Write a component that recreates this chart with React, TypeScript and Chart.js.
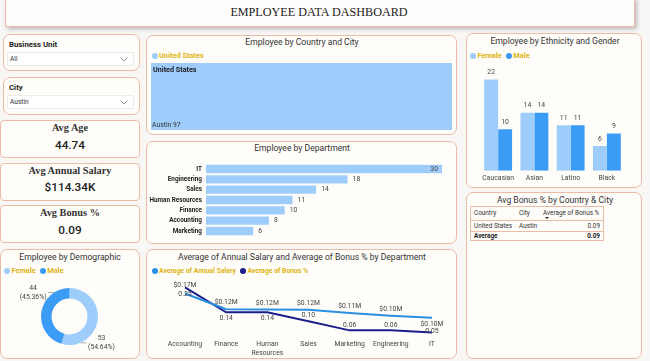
import React, { useEffect, useRef } from 'react';
import { Chart, registerables } from 'chart.js';
Chart.register(...registerables);

// ---------- data ----------
const dashboardTitle = 'EMPLOYEE DATA DASHBOARD';
const businessUnitSelection = 'All';
const citySelection = 'Austin';
const kpiTitles = ['Avg Age', 'Avg Annual Salary', 'Avg Bonus %'];
const kpiValues = ['44.74', '$114.34K', '0.09'];

const countries = ['United States'];
const cities = ['Austin'];
const cityCounts = [97];

const departments = ['IT', 'Engineering', 'Sales', 'Human Resources', 'Finance', 'Accounting', 'Marketing'];
const departmentCounts = [30, 18, 14, 11, 10, 8, 6];

const ethnicities = ['Caucasian', 'Asian', 'Latino', 'Black'];
const femaleByEthnicity = [22, 14, 11, 6];
const maleByEthnicity = [10, 14, 11, 9];

const genders = ['Female', 'Male'];
const genderCounts = [53, 44];

const lineDepartments = ['Accounting', 'Finance', ['Human', 'Resources'], 'Sales', 'Marketing', 'Engineering', 'IT'];
const lineSeriesNames = ['Average of Annual Salary', 'Average of Bonus %'];
const avgAnnualSalary = [168000, 123000, 122000, 121000, 112000, 104000, 98000];
const avgBonusPct = [0.25, 0.14, 0.14, 0.1, 0.06, 0.06, 0.05];

const tableHeaders = ['Country', 'City', 'Average of Bonus %'];
const tableRowCountry = 'United States';
const tableRowCity = 'Austin';
const tableRowBonus = '0.09';
const tableTotalLabel = 'Average';
const tableTotalBonus = '0.09';

// ---------- styles ----------
const FONT = "Roboto, 'Noto Sans', sans-serif";
const SERIF = "'Liberation Serif', 'DejaVu Serif', serif";
const LIGHT = '#9fcdfb';
const MID = '#3a9cf5';
const SALARY = '#2a90e2';
const BONUS = '#1b1f8c';
const GOLD = '#e0b412';
const BORDER = '#ebbba6';
const PANEL_BG = '#fffdfa';
const TITLE_SIZE = 8.6;

function ChartCanvas({ config, left, top, width, height }: any) {
  const ref = useRef<HTMLCanvasElement | null>(null);
  useEffect(() => {
    const c = new Chart(ref.current as HTMLCanvasElement, config);
    return () => c.destroy();
  }, []);
  return (
    <canvas
      ref={ref}
      width={width}
      height={height}
      style={{ position: 'absolute', left, top, width, height }}
    />
  );
}

function Panel({ left, top, width, height, children, style }: any) {
  return (
    <div
      style={{
        position: 'absolute', left, top, width, height, boxSizing: 'border-box',
        border: `1px solid ${BORDER}`, borderRadius: 7, background: PANEL_BG, ...style,
      }}
    >
      {children}
    </div>
  );
}

function Text({ x, y, children, size = TITLE_SIZE, color = '#333', weight = 400, align = 'center', family = FONT, width = 300, style }: any) {
  const left = align === 'center' ? x - width / 2 : align === 'right' ? x - width : x;
  return (
    <div
      style={{
        position: 'absolute', left, top: y - size * 0.6, width, textAlign: align,
        fontFamily: family, fontSize: size, fontWeight: weight, color, lineHeight: `${size * 1.2}px`,
        whiteSpace: 'nowrap', ...style,
      }}
    >
      {children}
    </div>
  );
}

function Legend({ x, y, items, size = 7.4 }: any) {
  return (
    <div style={{ position: 'absolute', left: x - 3, top: y - 5, height: 10, display: 'flex', alignItems: 'center', gap: 4, whiteSpace: 'nowrap' }}>
      {items.map((it: any, i: number) => (
        <div key={i} style={{ display: 'flex', alignItems: 'center', gap: 1.5 }}>
          <div style={{ width: 6, height: 6, borderRadius: 3, background: it.color }} />
          <span style={{ fontFamily: FONT, fontSize: size, fontWeight: 700, color: GOLD, lineHeight: '10px' }}>{it.label}</span>
        </div>
      ))}
    </div>
  );
}

// ---------- chart configs ----------
const treemapConfig: any = {
  type: 'bar',
  data: {
    labels: countries,
    datasets: [{ label: cities[0], data: cityCounts, backgroundColor: LIGHT, barPercentage: 1, categoryPercentage: 1, borderWidth: 0 }],
  },
  options: {
    indexAxis: 'y', animation: false, responsive: false,
    layout: { padding: 0 },
    plugins: { legend: { display: false }, tooltip: { enabled: false } },
    scales: {
      x: { display: false, min: 0, max: cityCounts.reduce((a, b) => a + b, 0), stacked: true },
      y: { display: false, stacked: true },
    },
  },
  plugins: [{
    id: 'treeLabels',
    afterDatasetsDraw(chart: any) {
      const ctx = chart.ctx;
      const el = chart.getDatasetMeta(0).data[0];
      const p = el.getProps(['x', 'y', 'base', 'height'], true);
      const left = Math.min(p.x, p.base);
      const topY = p.y - p.height / 2;
      const botY = p.y + p.height / 2;
      ctx.save();
      ctx.fillStyle = '#1a1a1a';
      ctx.textBaseline = 'middle';
      ctx.font = `bold 7.2px ${FONT}`;
      ctx.fillText(chart.data.labels[0], left + 2, topY + 7.5);
      ctx.font = `6.8px ${FONT}`;
      ctx.fillStyle = '#333';
      ctx.fillText(`${chart.data.datasets[0].label} ${chart.data.datasets[0].data[0]}`, left + 1, botY - 4.5);
      ctx.restore();
    },
  }],
};

const deptConfig: any = {
  type: 'bar',
  data: {
    labels: departments,
    datasets: [{ data: departmentCounts, backgroundColor: LIGHT, barPercentage: 0.8, categoryPercentage: 1, borderWidth: 0 }],
  },
  options: {
    indexAxis: 'y', animation: false, responsive: false,
    layout: { padding: { left: 0, right: 10, top: 0, bottom: 0 } },
    plugins: { legend: { display: false }, tooltip: { enabled: false } },
    scales: {
      x: { display: false, min: 0, max: 30 },
      y: {
        grid: { display: false, drawTicks: false }, border: { display: false },
        ticks: { color: '#222', font: { family: FONT, size: 6.4, weight: 'bold' }, padding: 4, autoSkip: false },
        afterFit(scale: any) { scale.width = 57; },
      },
    },
  },
  plugins: [{
    id: 'deptLabels',
    afterDatasetsDraw(chart: any) {
      const ctx = chart.ctx;
      const area = chart.chartArea;
      ctx.save();
      ctx.font = `6.8px ${FONT}`;
      ctx.fillStyle = '#444';
      ctx.textBaseline = 'middle';
      chart.getDatasetMeta(0).data.forEach((el: any, i: number) => {
        const txt = String(chart.data.datasets[0].data[i]);
        const w = ctx.measureText(txt).width;
        if (el.x + 5 + w > area.right) {
          ctx.textAlign = 'right';
          ctx.fillText(txt, el.x - 4, el.y);
        } else {
          ctx.textAlign = 'left';
          ctx.fillText(txt, el.x + 5, el.y);
        }
      });
      ctx.restore();
    },
  }],
};

const ethnicityConfig: any = {
  type: 'bar',
  data: {
    labels: ethnicities,
    datasets: [
      { label: genders[0], data: femaleByEthnicity, backgroundColor: LIGHT, barPercentage: 1, categoryPercentage: 0.77, borderWidth: 0 },
      { label: genders[1], data: maleByEthnicity, backgroundColor: MID, barPercentage: 1, categoryPercentage: 0.77, borderWidth: 0 },
    ],
  },
  options: {
    animation: false, responsive: false,
    layout: { padding: { left: 10, right: 5, top: 3, bottom: 0 } },
    plugins: { legend: { display: false }, tooltip: { enabled: false } },
    scales: {
      x: {
        grid: { display: false, drawTicks: false }, border: { display: false },
        ticks: { color: '#444', font: { family: FONT, size: 6.8 }, padding: 3, maxRotation: 0 },
      },
      y: { display: false, min: 0, max: 25 },
    },
  },
  plugins: [{
    id: 'ethLabels',
    afterDatasetsDraw(chart: any) {
      const ctx = chart.ctx;
      ctx.save();
      ctx.font = `6.8px ${FONT}`;
      ctx.fillStyle = '#444';
      ctx.textAlign = 'center';
      ctx.textBaseline = 'middle';
      chart.data.datasets.forEach((ds: any, di: number) => {
        chart.getDatasetMeta(di).data.forEach((el: any, i: number) => {
          ctx.fillText(String(ds.data[i]), el.x, el.y - 7);
        });
      });
      ctx.restore();
    },
  }],
};

const totalGender = genderCounts.reduce((a, b) => a + b, 0);
const donutConfig: any = {
  type: 'doughnut',
  data: {
    labels: genders,
    datasets: [{ data: genderCounts, backgroundColor: [LIGHT, MID], borderWidth: 0 }],
  },
  options: {
    animation: false, responsive: false, cutout: '63%',
    layout: { padding: { top: 6, bottom: 13, left: 36, right: 37 } },
    plugins: { legend: { display: false }, tooltip: { enabled: false } },
  },
  plugins: [{
    id: 'donutLabels',
    afterDatasetsDraw(chart: any) {
      const ctx = chart.ctx;
      ctx.save();
      ctx.font = `6.8px ${FONT}`;
      ctx.fillStyle = '#444';
      ctx.strokeStyle = '#999';
      ctx.lineWidth = 0.8;
      ctx.textAlign = 'center';
      ctx.textBaseline = 'middle';
      chart.getDatasetMeta(0).data.forEach((el: any, i: number) => {
        const p = el.getProps(['x', 'y', 'startAngle', 'endAngle', 'outerRadius'], true);
        const a = p.startAngle + 0.8 * (p.endAngle - p.startAngle);
        const ax = p.x + p.outerRadius * Math.cos(a);
        const ay = p.y + p.outerRadius * Math.sin(a);
        const dir = Math.cos(a) < 0 ? -1 : 1;
        const ex = ax + dir * 6;
        ctx.beginPath();
        ctx.moveTo(ax, ay);
        ctx.lineTo(ex, ay);
        ctx.stroke();
        const v = genderCounts[i];
        const pct = ((v / totalGender) * 100).toFixed(2);
        const tx = ex + dir * 15;
        ctx.fillText(String(v), tx, ay - 4.3);
        ctx.fillText(`(${pct}%)`, tx, ay + 4.3);
      });
      ctx.restore();
    },
  }],
};

const lineConfig: any = {
  type: 'line',
  data: {
    labels: lineDepartments,
    datasets: [
      { label: lineSeriesNames[0], data: avgAnnualSalary, borderColor: SALARY, backgroundColor: SALARY, borderWidth: 2, pointRadius: 0, yAxisID: 'y', tension: 0 },
      { label: lineSeriesNames[1], data: avgBonusPct, borderColor: BONUS, backgroundColor: BONUS, borderWidth: 2, pointRadius: 0, yAxisID: 'y2', tension: 0 },
    ],
  },
  options: {
    animation: false, responsive: false,
    layout: { padding: { left: 35, right: 20, top: 4, bottom: 0 } },
    plugins: {
      legend: { display: false }, tooltip: { enabled: false },
      lineLabels: {
        offsets: [
          [-8, -6.5, -6.5, -6.5, -6.5, -6.5, 6.5],
          [7, 6.5, 6.5, -6.5, -5.5, -5.5, -1.5],
        ],
      },
    },
    scales: {
      x: {
        grid: { display: false, drawTicks: false }, border: { display: false },
        ticks: { color: '#444', font: { family: FONT, size: 6.8 }, padding: 4, maxRotation: 0, autoSkip: false },
      },
      y: { display: false, min: 43700, max: 207000 },
      y2: { display: false, min: 0.032, max: 0.283 },
    },
  },
  plugins: [{
    id: 'lineLabels',
    afterDatasetsDraw(chart: any, _args: any, opts: any) {
      const ctx = chart.ctx;
      ctx.save();
      ctx.font = `6.8px ${FONT}`;
      ctx.fillStyle = '#444';
      ctx.textAlign = 'center';
      ctx.textBaseline = 'middle';
      chart.data.datasets.forEach((ds: any, di: number) => {
        chart.getDatasetMeta(di).data.forEach((pt: any, i: number) => {
          const v = ds.data[i];
          const txt = di === 0 ? `$${(v / 1e6).toFixed(2)}M` : v.toFixed(2);
          ctx.fillText(txt, pt.x, pt.y + opts.offsets[di][i]);
        });
      });
      ctx.restore();
    },
  }],
};

function Chevron({ x, y }: any) {
  return (
    <svg style={{ position: 'absolute', left: x, top: y }} width="8" height="5" viewBox="0 0 8 5">
      <polyline points="0.5,0.5 4,4 7.5,0.5" fill="none" stroke="#888" strokeWidth="0.9" />
    </svg>
  );
}

export default function App() {
  return (
    <div style={{ position: 'fixed', left: 0, top: 0, width: 650, height: 361, background: '#f8f7f5', overflow: 'hidden', fontFamily: FONT }}>
      {/* header */}
      <div style={{
        position: 'absolute', left: 5, top: -2, width: 630, height: 29, boxSizing: 'border-box',
        border: `1px solid ${BORDER}`, background: '#fffdfb', boxShadow: '2px 2px 4px rgba(0,0,0,0.25)',
      }} />
      <Text x={319} y={12} size={13.5} family={SERIF} color="#222" width={400} style={{ transform: 'scaleX(0.9)' }}>{dashboardTitle}</Text>

      {/* slicers */}
      <Panel left={3} top={34} width={137} height={37} />
      <Text x={9} y={45} align="left" size={7.8} weight={700} color="#222" width={120}>Business Unit</Text>
      <div style={{ position: 'absolute', left: 7, top: 52, width: 127, height: 14, boxSizing: 'border-box', border: '1px solid #ececec', background: '#fff' }} />
      <Text x={10} y={59.5} align="left" size={6.6} color="#333" width={100}>{businessUnitSelection}</Text>
      <Chevron x={120} y={57} />

      <Panel left={3} top={77} width={137} height={38} />
      <Text x={9} y={88} align="left" size={7.8} weight={700} color="#222" width={120}>City</Text>
      <div style={{ position: 'absolute', left: 7, top: 95, width: 127, height: 14, boxSizing: 'border-box', border: '1px solid #ececec', background: '#fff' }} />
      <Text x={10} y={102.5} align="left" size={6.6} color="#333" width={100}>{citySelection}</Text>
      <Chevron x={120} y={100} />

      {/* KPI cards */}
      {[120, 162.5, 205].map((t, i) => (
        <React.Fragment key={i}>
          <Panel left={0} top={t} width={140} height={38} style={{ borderRadius: 4 }} />
          <Text x={70} y={t + 8.5} size={10.3} weight={700} family={SERIF} color="#333" width={140}>{kpiTitles[i]}</Text>
          <Text x={70} y={t + 25} size={11.8} weight={500} color="#222" width={140}>{kpiValues[i]}</Text>
        </React.Fragment>
      ))}

      {/* demographic donut */}
      <Panel left={0} top={249} width={140} height={110} />
      <Text x={70} y={257} color="#333" width={140}>Employee by Demographic</Text>
      <Legend x={7} y={271} items={[{ color: LIGHT, label: genders[0] }, { color: MID, label: genders[1] }]} />
      <ChartCanvas config={donutConfig} left={5} top={282} width={130} height={76} />

      {/* country & city treemap */}
      <Panel left={146} top={35} width={311} height={100} />
      <Text x={302} y={42} color="#333">Employee by Country and City</Text>
      <Legend x={154.5} y={56} items={[{ color: LIGHT, label: countries[0] }]} />
      <ChartCanvas config={treemapConfig} left={151} top={63} width={301} height={67} />

      {/* department bars */}
      <Panel left={146} top={141} width={311} height={103} />
      <Text x={302} y={148} color="#333">Employee by Department</Text>
      <ChartCanvas config={deptConfig} left={149} top={156} width={303} height={88} />

      {/* salary & bonus lines */}
      <Panel left={146} top={249} width={311} height={110} />
      <Text x={302} y={257} color="#333">Average of Annual Salary and Average of Bonus % by Department</Text>
      <Legend x={154.5} y={271} size={6.8} items={[{ color: SALARY, label: lineSeriesNames[0] }, { color: BONUS, label: lineSeriesNames[1] }]} />
      <ChartCanvas config={lineConfig} left={150} top={276} width={302} height={85} />

      {/* ethnicity */}
      <Panel left={466} top={33} width={176} height={155} />
      <Text x={555} y={41} color="#333" width={176}>Employee by Ethnicity and Gender</Text>
      <Legend x={473} y={56} items={[{ color: LIGHT, label: genders[0] }, { color: MID, label: genders[1] }]} />
      <ChartCanvas config={ethnicityConfig} left={470} top={64} width={160} height={121} />

      {/* table */}
      <Panel left={466} top={192} width={176} height={167} />
      <Text x={555} y={200} color="#333" width={176}>Avg Bonus % by Country &amp; City</Text>
      <div style={{ position: 'absolute', left: 470, top: 206, width: 134, boxSizing: 'border-box', border: `1px solid ${BORDER}`, fontSize: 6.4, color: '#333', fontFamily: FONT }}>
        <div style={{ position: 'relative', height: 12.5, borderBottom: `1px solid ${BORDER}` }}>
          <span style={{ position: 'absolute', left: 3, top: 2 }}>{tableHeaders[0]}</span>
          <span style={{ position: 'absolute', left: 48, top: 2 }}>{tableHeaders[1]}</span>
          <span style={{ position: 'absolute', left: 72, top: 2 }}>{tableHeaders[2]}</span>
          <span style={{ position: 'absolute', left: 74, top: 9.5, width: 0, height: 0, borderLeft: '2px solid transparent', borderRight: '2px solid transparent', borderTop: '2.5px solid #222' }} />
        </div>
        <div style={{ position: 'relative', height: 10, borderBottom: `1px solid ${BORDER}` }}>
          <span style={{ position: 'absolute', left: 3, top: 1.5 }}>{tableRowCountry}</span>
          <span style={{ position: 'absolute', left: 48, top: 1.5 }}>{tableRowCity}</span>
          <span style={{ position: 'absolute', right: 3, top: 1.5 }}>{tableRowBonus}</span>
        </div>
        <div style={{ position: 'relative', height: 8.5, fontWeight: 700, color: '#222' }}>
          <span style={{ position: 'absolute', left: 3, top: 0.5 }}>{tableTotalLabel}</span>
          <span style={{ position: 'absolute', right: 3, top: 0.5 }}>{tableTotalBonus}</span>
        </div>
      </div>
    </div>
  );
}
